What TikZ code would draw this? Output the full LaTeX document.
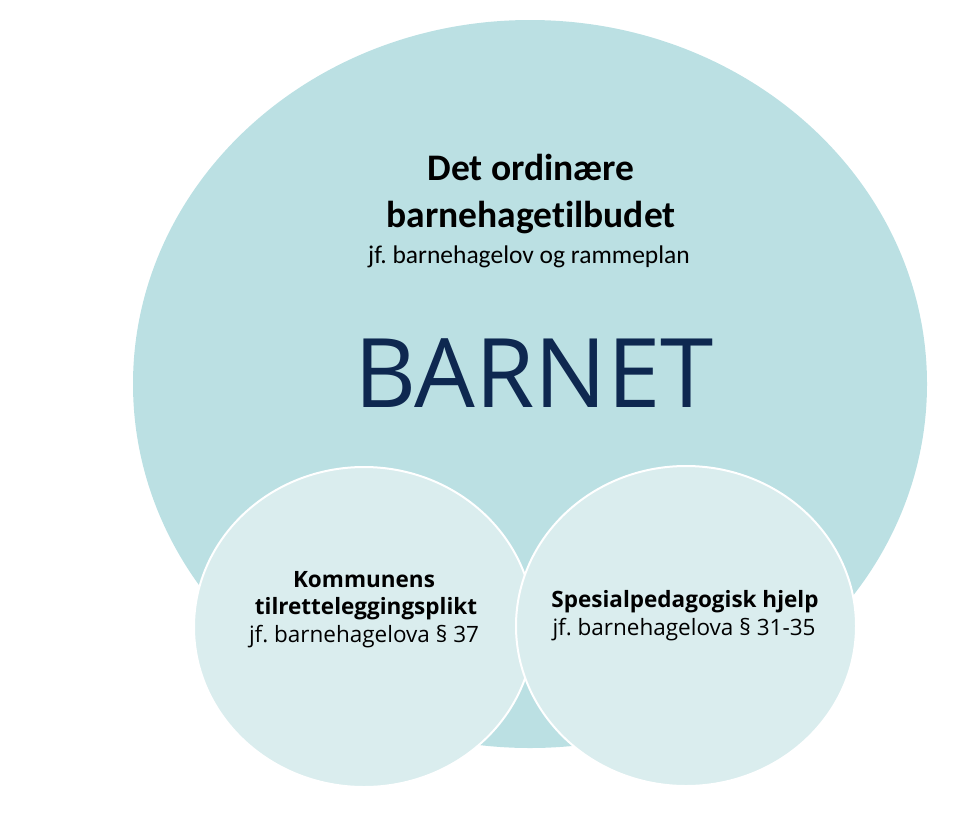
\documentclass[tikz,border=0pt]{standalone}
\usepackage{fontspec}
\setmainfont{Open Sans}
\newfontfamily\calib[Ligatures=CommonOff]{Carlito}
\usetikzlibrary{shapes.geometric}
\definecolor{bigfill}{HTML}{BBE0E3}
\definecolor{smallfill}{HTML}{DAEDEE}
\definecolor{navy}{HTML}{0E2850}
\frenchspacing
\tikzset{
  bigellipse/.style={ellipse, fill=bigfill, inner sep=0pt, minimum width=794pt, minimum height=728pt},
  smallellipse/.style={ellipse, fill=smallfill, draw=white, line width=2pt, inner sep=0pt, minimum width=340pt, minimum height=320pt},
  titletext/.style={anchor=base, inner sep=0pt, font=\calib\fontsize{37.5}{44}\selectfont\bfseries},
  subtext/.style={anchor=base, inner sep=0pt, font=\calib\fontsize{25.5}{30}\selectfont},
  bigword/.style={anchor=base, inner sep=0pt, text=navy, font=\fontsize{96}{104}\selectfont},
  smallbold/.style={anchor=base, inner sep=0pt, font=\fontsize{22.5}{27}\selectfont\bfseries},
  smallreg/.style={anchor=base, inner sep=0pt, font=\fontsize{22.5}{27}\selectfont},
}
\begin{document}
\begin{tikzpicture}[x=1pt,y=-1pt]
\useasboundingbox (0,0) rectangle (979,812);
\node[bigellipse] (big) at (530,384) {};
\node[smallellipse] (left) at (364,627) {};
\node[smallellipse] (right) at (686,626) {};
\node[titletext] (t1) at (531,180) {Det ordinære};
\node[titletext] (t2) at (531,227) {barnehagetilbudet};
\node[subtext] (t3) at (529,263) {jf. barnehagelov og rammeplan};
\node[bigword] (barnet) at (534,407) {BARNET};
\node[smallbold] (l1) at (364,587) {Kommunens};
\node[smallbold] (l2) at (366,614) {tilretteleggingsplikt};
\node[smallreg] (l3) at (364,642) {jf. barnehagelova § 37};
\node[smallbold] (r1) at (685,607) {Spesialpedagogisk hjelp};
\node[smallreg] (r2) at (684,635) {jf. barnehagelova § 31-35};
\end{tikzpicture}
\end{document}
